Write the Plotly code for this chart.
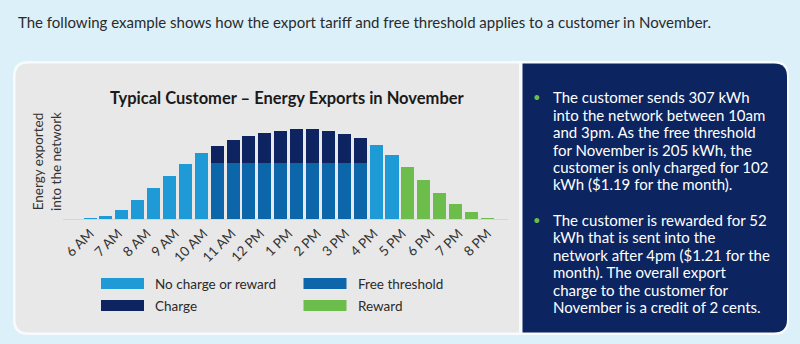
import plotly.graph_objects as go
import numpy as np

W, H = 800, 344

# ---------------- data (arbitrary energy units) ----------------
slots = list(range(26))  # half-hour slots from 6 AM to 8:30 PM
no_charge = [0.4, 3.3, 9.3, 19.0, 31.0, 43.3, 55.0, 66.3,
             None, None, None, None, None, None, None, None, None, None,
             74.7, 64.3,
             None, None, None, None, None, None]
free_threshold = [None, None, None, None, None, None, None, None,
                  56.7, 56.7, 56.7, 56.7, 56.7, 56.7, 56.7, 56.7, 56.7, 56.7,
                  None, None,
                  None, None, None, None, None, None]
charge = [None, None, None, None, None, None, None, None,
          16.3, 22.3, 26.3, 29.3, 31.6, 33.6, 33.3, 31.3, 28.6, 25.0,
          None, None,
          None, None, None, None, None, None]
reward = [None, None, None, None, None, None, None, None,
          None, None, None, None, None, None, None, None, None, None,
          None, None,
          52.3, 39.3, 26.7, 15.3, 7.0, 1.7]
tick_labels = ["6 AM", "7 AM", "8 AM", "9 AM", "10 AM", "11 AM", "12 PM", "1 PM",
               "2 PM", "3 PM", "4 PM", "5 PM", "6 PM", "7 PM", "8 PM"]
series_names = ["No charge or reward", "Free threshold", "Charge", "Reward"]

header = "The following example shows how the export tariff and free threshold applies to a customer in November."
chart_title = "Typical Customer – Energy Exports in November"
y_title = "Energy exported<br>into the network"
bullet1 = ["The customer sends 307 kWh",
           "into the network between 10am",
           "and 3pm. As the free threshold",
           "for November is 205 kWh, the",
           "customer is only charged for 102",
           "kWh ($1.19 for the month)."]
bullet2 = ["The customer is rewarded for 52",
           "kWh that is sent into the",
           "network after 4pm ($1.21 for the",
           "month). The overall export",
           "charge to the customer for",
           "November is a credit of 2 cents."]

# ---------------- styles ----------------
C_LIGHT = "#1e9bd7"
C_FREE = "#0c66a9"
C_CHARGE = "#0e2460"
C_REWARD = "#6cbd4b"
C_BG = "#dcf0f9"
C_GRAY = "#e8e8e8"
C_NAVY = "#0c2560"
FONT = "Lato"


def px(x):
    return x / W


def py(y):
    return 1 - y / H


def rrect(x0, y0, x1, y1, r, tl, tr, br, bl):
    a, b, c, d = (r if tl else 0), (r if tr else 0), (r if br else 0), (r if bl else 0)

    def P(x, y):
        return f"{px(x):.5f},{py(y):.5f}"
    s = f"M {P(x0 + a, y0)} L {P(x1 - b, y0)} Q {P(x1, y0)} {P(x1, y0 + b)} "
    s += f"L {P(x1, y1 - c)} Q {P(x1, y1)} {P(x1 - c, y1)} "
    s += f"L {P(x0 + d, y1)} Q {P(x0, y1)} {P(x0, y1 - d)} "
    s += f"L {P(x0, y0 + a)} Q {P(x0, y0)} {P(x0 + a, y0)} Z"
    return s


fig = go.Figure()
for name, vals, col in zip(series_names,
                           [no_charge, free_threshold, charge, reward],
                           [C_LIGHT, C_FREE, C_CHARGE, C_REWARD]):
    fig.add_trace(go.Bar(x=slots, y=vals, name=name,
                         marker=dict(color=col, line=dict(width=0))))

tickvals = np.linspace(slots[0], slots[-1], len(tick_labels))

shapes = [
    # white card outline
    dict(type="path", xref="paper", yref="paper", layer="below",
         path=rrect(13, 61, 789, 335, 15, True, True, True, True),
         fillcolor="#f7fbfd", line=dict(width=0)),
    # gray chart panel
    dict(type="path", xref="paper", yref="paper", layer="below",
         path=rrect(15.5, 63.5, 519, 332.5, 13, True, False, False, True),
         fillcolor=C_GRAY, line=dict(width=0)),
    # navy text panel
    dict(type="path", xref="paper", yref="paper", layer="below",
         path=rrect(522.5, 63.5, 787, 332.5, 13, False, True, True, False),
         fillcolor=C_NAVY, line=dict(width=0)),
]

annotations = [
    dict(text=header, x=px(16), y=py(21.5), xref="paper", yref="paper",
         xanchor="left", yanchor="middle", showarrow=False,
         font=dict(family=FONT, size=15, color="#2a2a2a")),
    dict(text=f"<b>{chart_title}</b>", x=px(287.5), y=py(98), xref="paper", yref="paper",
         xanchor="center", yanchor="middle", showarrow=False,
         font=dict(family=FONT, size=16.5, color="#1a1a1a")),
    dict(text=y_title, x=px(47), y=py(162), xref="paper", yref="paper",
         xanchor="center", yanchor="middle", showarrow=False, textangle=-90,
         font=dict(family=FONT, size=13.5, color="#333333")),
]

# custom legend (2 x 2 grid)
legend_cells = [(101, 283.5), (303.5, 283.5), (101, 305.5), (303.5, 305.5)]
for (lx, ly), name, col in zip(legend_cells, series_names, [C_LIGHT, C_FREE, C_CHARGE, C_REWARD]):
    shapes.append(dict(type="rect", xref="paper", yref="paper", layer="above",
                       x0=px(lx), x1=px(lx + 43), y0=py(ly - 5.5), y1=py(ly + 5.5),
                       fillcolor=col, line=dict(width=0)))
    annotations.append(dict(text=name, x=px(lx + 52), y=py(ly), xref="paper", yref="paper",
                            xanchor="left", yanchor="middle", showarrow=False,
                            font=dict(family=FONT, size=13.5, color="#2a2a2a")))

# right panel text
line_h = 17.5
for start_y, lines in [(97, bullet1), (219.5, bullet2)]:
    annotations.append(dict(text="•", x=px(537), y=py(start_y), xref="paper", yref="paper",
                            xanchor="center", yanchor="middle", showarrow=False,
                            font=dict(family=FONT, size=13, color=C_REWARD)))
    for i, ln in enumerate(lines):
        annotations.append(dict(text=ln, x=px(551), y=py(start_y + i * line_h), xref="paper", yref="paper",
                                xanchor="left", yanchor="middle", showarrow=False,
                                font=dict(family=FONT, size=15, color="#ffffff")))

y_top_px = 124
fig.update_layout(
    width=W, height=H, autosize=False,
    margin=dict(l=0, r=0, t=0, b=0, pad=0),
    paper_bgcolor=C_BG, plot_bgcolor="rgba(0,0,0,0)",
    barmode="stack", bargap=0.18, showlegend=False,
    xaxis=dict(domain=[px(63), px(508)], range=[-1.7, 26.3],
               tickmode="array", tickvals=tickvals, ticktext=tick_labels,
               tickangle=-45, ticks="", showgrid=False, zeroline=False,
               showline=True, linecolor="#d6d6d6", linewidth=1,
               tickfont=dict(family=FONT, size=13.5, color="#333333")),
    yaxis=dict(domain=[py(219.3), py(y_top_px)], range=[0, 219.3 - y_top_px],
               showticklabels=False, showgrid=False, zeroline=False, ticks=""),
    shapes=shapes, annotations=annotations,
)

fig.write_html("out.html")
